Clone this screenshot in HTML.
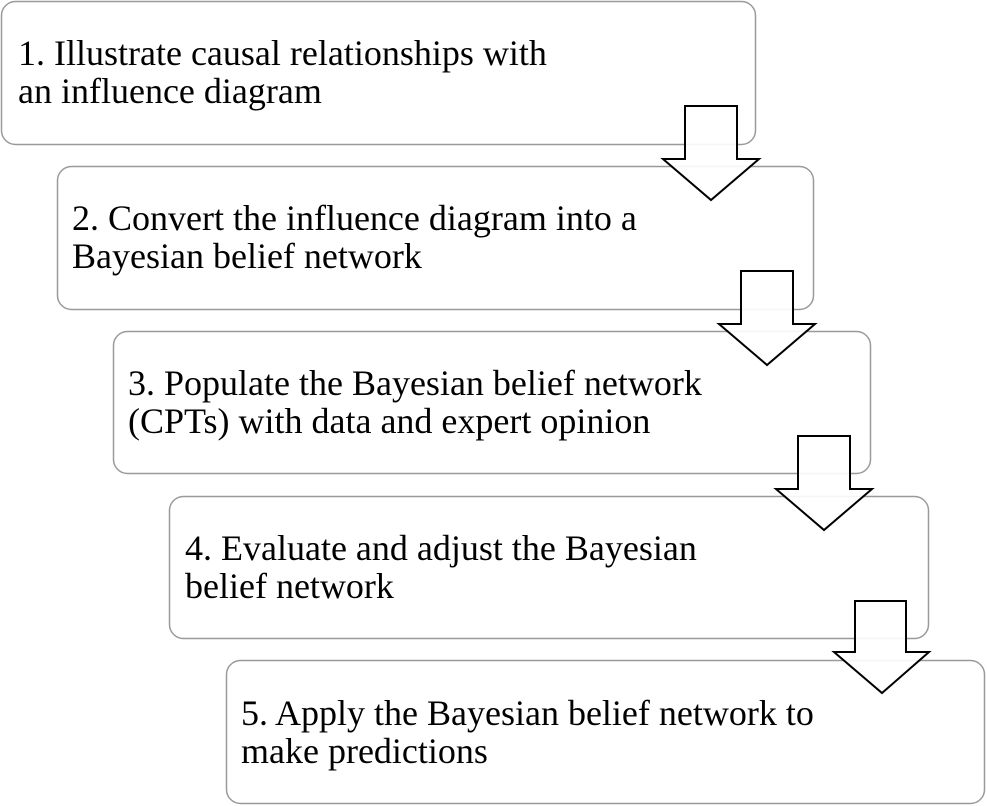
<!DOCTYPE html>
<html><head><style>
html,body{margin:0;padding:0;background:#fff;}
svg{display:block;}
text{font-family:"Liberation Serif",serif;font-size:36px;fill:#000;}
</style></head><body>
<svg width="987" height="806" viewBox="0 0 987 806" xmlns="http://www.w3.org/2000/svg">
<rect x="1.5" y="1.5" width="754" height="143" rx="14" fill="#fff" stroke="#9a9a9a" stroke-width="1.5"/>
<rect x="57.5" y="166.5" width="756" height="143" rx="14" fill="#fff" stroke="#9a9a9a" stroke-width="1.5"/>
<rect x="113.5" y="331.5" width="757" height="142" rx="14" fill="#fff" stroke="#9a9a9a" stroke-width="1.5"/>
<rect x="169.5" y="496.5" width="759" height="142" rx="14" fill="#fff" stroke="#9a9a9a" stroke-width="1.5"/>
<rect x="226.5" y="660.5" width="758" height="143" rx="14" fill="#fff" stroke="#9a9a9a" stroke-width="1.5"/>
<g fill="#fff" fill-opacity="0.9" stroke="#000" stroke-width="2">
<polygon points="685,106 737,106 737,159 759,159 711,200 663,159 685,159"/>
<polygon points="741,271 793,271 793,324 815,324 767,365 719,324 741,324"/>
<polygon points="798,436 850,436 850,489 872,489 824,530 776,489 798,489"/>
<polygon points="855,601 906,601 906,652 929,652 882,693 834,652 855,652"/>
</g>
<text x="18" y="65">1. Illustrate causal relationships with</text>
<text x="18" y="103">an influence diagram</text>
<text x="72" y="230">2. Convert the influence diagram into a</text>
<text x="72" y="268">Bayesian belief network</text>
<text x="128" y="395">3. Populate the Bayesian belief network</text>
<text x="128" y="433">(CPTs) with data and expert opinion</text>
<text x="185" y="560">4. Evaluate and adjust the Bayesian</text>
<text x="185" y="598">belief network</text>
<text x="241" y="725">5. Apply the Bayesian belief network to</text>
<text x="241" y="763">make predictions</text>
</svg>
</body></html>
